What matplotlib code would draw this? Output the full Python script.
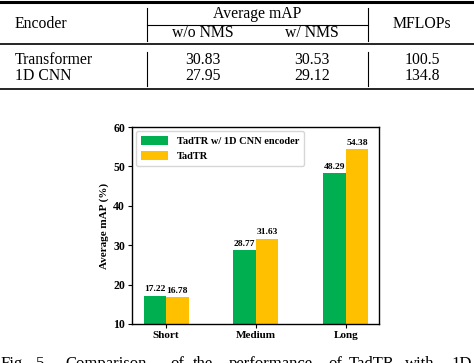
import numpy as np
import matplotlib.pyplot as plt

# table data
enc_names = ["Transformer", "1D CNN"]
map_wo_nms = ["30.83", "27.95"]
map_w_nms = ["30.53", "29.12"]
mflops = ["100.5", "134.8"]

# bar chart data
groups = ["Short", "Medium", "Long"]
cnn_vals = [17.22, 28.77, 48.29]
tadtr_vals = [16.78, 31.63, 54.38]
series_names = ["TadTR w/ 1D CNN encoder", "TadTR"]

# caption words (justified line, cut at the bottom of the crop)
caption_words = ["Fig.", "5.", "Comparison", "of", "the", "performance", "of", "TadTR", "with", "1D"]
caption_x = [1, 36, 65, 170, 193, 229, 328, 349, 405, 451]

W, H = 474, 363
fig = plt.figure(figsize=(W / 100, H / 100), dpi=100)

def fx(px):
    return px / W

def fy(py):
    return 1 - py / H

serif = ["Liberation Serif", "DejaVu Serif"]
tfs = 11.3

def hline(y, x0, x1, lw):
    fig.add_artist(plt.Line2D([fx(x0), fx(x1)], [fy(y), fy(y)], color="black", lw=lw))

def vline(x, y0, y1, lw=0.8):
    fig.add_artist(plt.Line2D([fx(x), fx(x)], [fy(y0), fy(y1)], color="black", lw=lw))

# table rules
hline(1.5, 0, 474, 2.2)
hline(25, 147, 368, 0.8)
hline(44, 0, 474, 1.2)
hline(89, 0, 474, 1.2)
for x in (147, 368):
    vline(x, 8, 41)
    vline(x, 52, 86)

fig.text(fx(15), fy(24), "Encoder", family=serif, fontsize=tfs, va="center")
fig.text(fx(257), fy(14), "Average mAP", family=serif, fontsize=tfs, va="center", ha="center")
fig.text(fx(203), fy(33), "w/o NMS", family=serif, fontsize=tfs, va="center", ha="center")
fig.text(fx(312), fy(33), "w/ NMS", family=serif, fontsize=tfs, va="center", ha="center")
fig.text(fx(422), fy(24), "MFLOPs", family=serif, fontsize=tfs, va="center", ha="center")
for i in range(len(enc_names)):
    y = 60 + i * 16
    fig.text(fx(15), fy(y), enc_names[i], family=serif, fontsize=tfs, va="center")
    fig.text(fx(203), fy(y), map_wo_nms[i], family=serif, fontsize=tfs, va="center", ha="center")
    fig.text(fx(312), fy(y), map_w_nms[i], family=serif, fontsize=tfs, va="center", ha="center")
    fig.text(fx(422), fy(y), mflops[i], family=serif, fontsize=tfs, va="center", ha="center")

# bar chart
ax = fig.add_axes([fx(132), fy(324), fx(379 - 132), (324 - 127) / H])
x = np.arange(len(groups))
w = 0.25
b1 = ax.bar(x - w / 2, cnn_vals, w, color="#00B050", label=series_names[0])
b2 = ax.bar(x + w / 2, tadtr_vals, w, color="#FFC000", label=series_names[1])
for bars in (b1, b2):
    for b in bars:
        ax.text(b.get_x() + b.get_width() / 2, b.get_height() + 0.6, f"{b.get_height():.2f}",
                ha="center", va="bottom", fontsize=6.8, fontweight="bold", family=serif)
ax.set_ylim(10, 60)
ax.set_xlim(-0.378, 2.367)
ax.set_xticks(x)
ax.set_xticklabels(groups, fontsize=8, fontweight="bold", family=serif)
ax.set_yticks([10, 20, 30, 40, 50, 60])
ax.set_yticklabels(["10", "20", "30", "40", "50", "60"], fontsize=8.5, fontweight="bold", family=serif)
ax.tick_params(length=3, width=0.8, pad=2)
ax.set_ylabel("Average mAP (%)", fontsize=8, fontweight="bold", family=serif, labelpad=3)
for s in ax.spines.values():
    s.set_linewidth(1.0)
ax.legend(loc="upper left", prop={"family": serif, "weight": "bold", "size": 7.5},
          handlelength=2.6, handleheight=0.9, borderaxespad=0.4, labelspacing=0.45,
          borderpad=0.5)

# caption, only its top part is inside the crop
for word, cx in zip(caption_words, caption_x):
    fig.text(fx(cx), fy(368), word, family=serif, fontsize=12, va="baseline", ha="left")

fig.savefig("out.png", dpi=100)
